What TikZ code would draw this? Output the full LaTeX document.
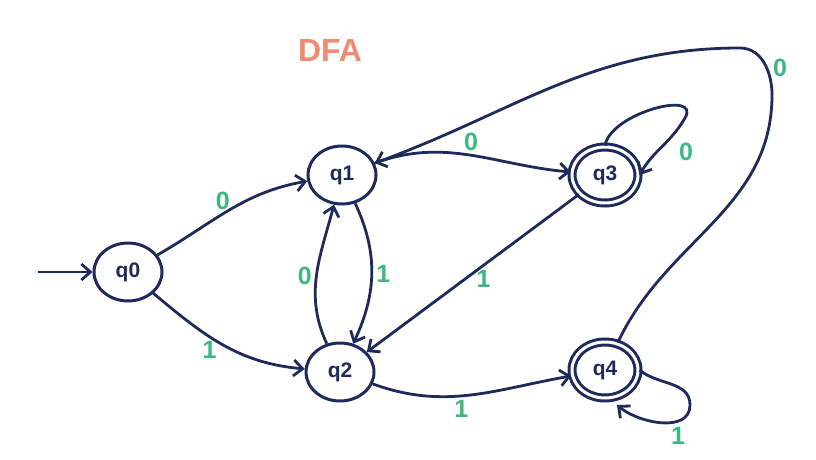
\documentclass[tikz,border=0pt]{standalone}
\usepackage{fontspec}
\setmainfont{Liberation Sans}
\usetikzlibrary{arrows.meta,shapes.geometric}
\definecolor{navy}{HTML}{1E2A5A}
\definecolor{lbl}{HTML}{3DB87E}
\definecolor{ttl}{HTML}{F08A70}
\begin{document}
\begin{tikzpicture}[x=1pt,y=-1pt,
 st/.style={ellipse,draw=navy,line width=3pt,minimum width=68pt,minimum height=58pt,inner sep=0pt,font=\bfseries\fontsize{21}{24}\selectfont,text=navy},
 acc/.style={st,double=white,double distance=3pt},
 e/.style={draw=navy,line width=2.8pt,-{Straight Barb[length=9pt,width=16pt]}},
 l/.style={font=\bfseries\fontsize{25}{28}\selectfont,text=lbl}]
\useasboundingbox (0,0) rectangle (816,460);
\node[font=\bfseries\fontsize{32}{36}\selectfont,text=ttl] (t) at (330,50) {DFA};
\node[st] (q0) at (128,272) {q0};
\node[st] (q1) at (342,175) {q1};
\node[st] (q2) at (340,372) {q2};
\node[acc,minimum width=66pt,minimum height=56pt] (q3) at (605,175) {q3};
\node[acc,minimum width=66pt,minimum height=56pt] (q4) at (605,370) {q4};
\coordinate (s) at (38,272);
\coordinate (c1) at (772,95);
\coordinate (c2) at (740,48);
\draw[e] (s) -- (q0);
\draw[e] (q0) to[out=30,in=190] node[l,above,pos=0.45] {0} (q1);
\draw[e] (q0) to[out=-40,in=175] node[l,below,pos=0.4] {1} (q2);
\draw[e] (q1) to[out=20,in=175] node[l,above] {0} (q3);
\draw[e] (q3.north) to[out=80,in=60,looseness=1] (685,118) to[out=-120,in=60] (q3.east);
\node[l] (z3) at (686,152) {0};
\draw[e] (q3) -- node[l,below,pos=0.45] {1} (q2);
\draw[e] (q1) to[out=-65,in=65] node[l,right] {1} (q2);
\draw[e] (q2) to[out=115,in=-105] node[l,left] {0} (q1);
\draw[e] (q2) to[out=-20,in=190] node[l,below,pos=0.45] {1} (q4);
\draw[e] (q4.east) to[out=-40,in=90] (690,405) to[out=-90,in=-40] (617,405);
\node[l] (z4) at (678,436) {1};
\draw[e] (q4) to[out=65,in=-90] (c1) to[out=90,in=0] (c2) to[out=180,in=20] (q1);
\node[l] (z) at (780,68) {0};
\end{tikzpicture}
\end{document}
